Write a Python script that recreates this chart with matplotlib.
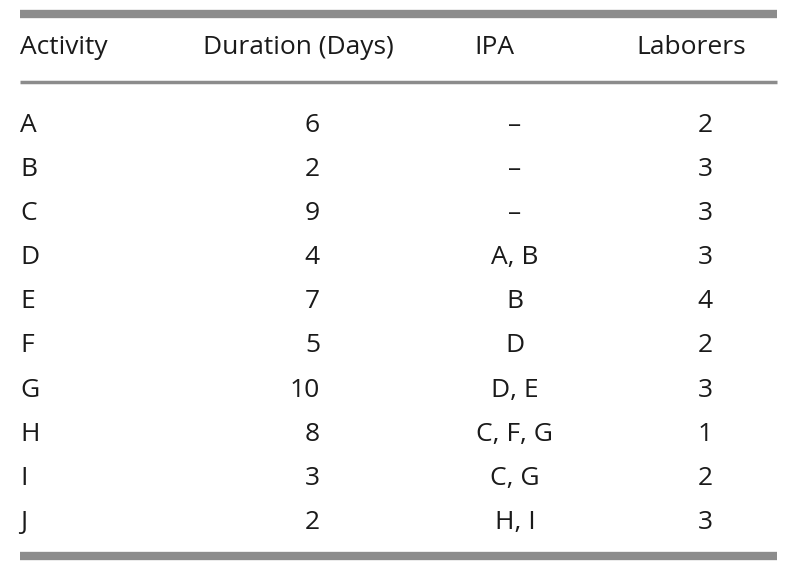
import matplotlib.pyplot as plt

headers = ["Activity", "Duration (Days)", "IPA", "Laborers"]
activities = ["A", "B", "C", "D", "E", "F", "G", "H", "I", "J"]
durations = [6, 2, 9, 4, 7, 5, 10, 8, 3, 2]
ipa = ["–", "–", "–", "A, B", "B", "D", "D, E", "C, F, G", "C, G", "H, I"]
laborers = [2, 3, 3, 3, 4, 2, 3, 1, 2, 3]

plt.rcParams['font.family'] = ['Open Sans', 'DejaVu Sans']
fig = plt.figure(figsize=(7.97, 5.75), dpi=100)
ax = fig.add_axes([0, 0, 1, 1])
ax.set_xlim(0, 797)
ax.set_ylim(575, 0)
ax.axis('off')

gray = '#8c8c8c'
ax.plot([20, 777], [14, 14], color=gray, lw=6, solid_capstyle='butt')
ax.plot([20, 777], [82, 82], color=gray, lw=2.5, solid_capstyle='butt')
ax.plot([20, 777], [556, 556], color=gray, lw=6, solid_capstyle='butt')

fs = 19
col = '#1a1a1a'
ax.text(20, 48, headers[0], fontsize=fs, color=col, ha='left', va='center')
ax.text(298, 48, headers[1], fontsize=fs, color=col, ha='center', va='center')
ax.text(494, 48, headers[2], fontsize=fs, color=col, ha='center', va='center')
ax.text(691, 48, headers[3], fontsize=fs, color=col, ha='center', va='center')

y0, dy = 125, 44.2
for i in range(len(activities)):
    y = y0 + i * dy
    ax.text(20, y, activities[i], fontsize=fs, color=col, ha='left', va='center')
    ax.text(320, y, str(durations[i]), fontsize=fs, color=col, ha='right', va='center')
    ax.text(515, y, ipa[i], fontsize=fs, color=col, ha='center', va='center')
    ax.text(705, y, str(laborers[i]), fontsize=fs, color=col, ha='center', va='center')

fig.savefig('out.png', dpi=100)
